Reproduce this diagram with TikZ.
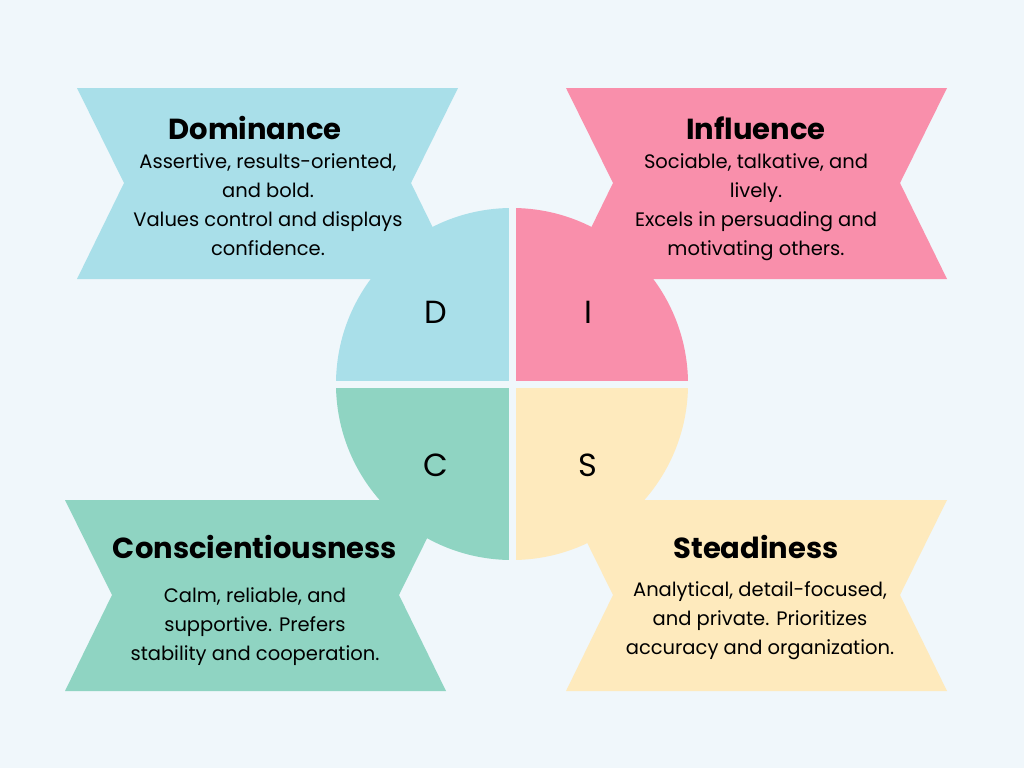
\documentclass[tikz,border=0pt]{standalone}
\usepackage{fontspec}
\setmainfont{Poppins}
\definecolor{bg}{HTML}{F0F7FB}
\definecolor{cD}{HTML}{A9DFE9}
\definecolor{cI}{HTML}{F98FAB}
\definecolor{cC}{HTML}{8FD4C2}
\definecolor{cS}{HTML}{FEEABD}
\begin{document}
\begin{tikzpicture}[x=1pt,y=-1pt,
  ttl/.style={font=\fontsize{29}{32}\selectfont\bfseries, text=black},
  body/.style={font=\fontsize{19.5}{29}\selectfont, align=center, text=black},
  letter/.style={font=\fontsize{32}{34}\selectfont, text=black}]
\fill[bg] (0,0) rectangle (1024,768);
\useasboundingbox (0,0) rectangle (1024,768);
% banners
\fill[cD] (77,88) -- (458,88) -- (411,183) -- (458,279) -- (77,279) -- (124,183) -- cycle;
\fill[cI] (566,88) -- (947,88) -- (900,183) -- (947,279) -- (566,279) -- (613,183) -- cycle;
\fill[cC] (65,500) -- (446,500) -- (399,595) -- (446,691) -- (65,691) -- (112,595) -- cycle;
\fill[cS] (566,500) -- (947,500) -- (900,595) -- (947,691) -- (566,691) -- (613,595) -- cycle;
% quadrants
\fill[cD] (512,384) -- (336,384) arc[start angle=180,end angle=270,radius=176] -- cycle;
\fill[cI] (512,384) -- (512,208) arc[start angle=270,end angle=360,radius=176] -- cycle;
\fill[cS] (512,384) -- (688,384) arc[start angle=0,end angle=90,radius=176] -- cycle;
\fill[cC] (512,384) -- (512,560) arc[start angle=90,end angle=180,radius=176] -- cycle;
\draw[bg, line width=7pt] (512,200) -- (512,568);
\draw[bg, line width=7pt] (328,384) -- (696,384);
% letters
\node[letter] (lD) at (436,312) {D};
\node[letter] (lI) at (588,312) {I};
\node[letter] (lC) at (436,465) {C};
\node[letter] (lS) at (588,465) {S};
% texts
\node[ttl] (tD) at (255,128) {Dominance};
\node[body, anchor=north] (bD) at (268,150) {Assertive, results-oriented,\\and bold.\\Values control and displays\\confidence.};
\node[ttl] (tI) at (756,128) {Influence};
\node[body, anchor=north] (bI) at (756,150) {Sociable, talkative, and\\lively.\\Excels in persuading and\\motivating others.};
\node[ttl] (tC) at (255,547) {Conscientiousness};
\node[body, anchor=north] (bC) at (255,584) {Calm, reliable, and\\supportive. Prefers\\stability and cooperation.};
\node[ttl] (tS) at (756,547) {Steadiness};
\node[body, anchor=north] (bS) at (760,578) {Analytical, detail-focused,\\and private. Prioritizes\\accuracy and organization.};
\end{tikzpicture}
\end{document}
